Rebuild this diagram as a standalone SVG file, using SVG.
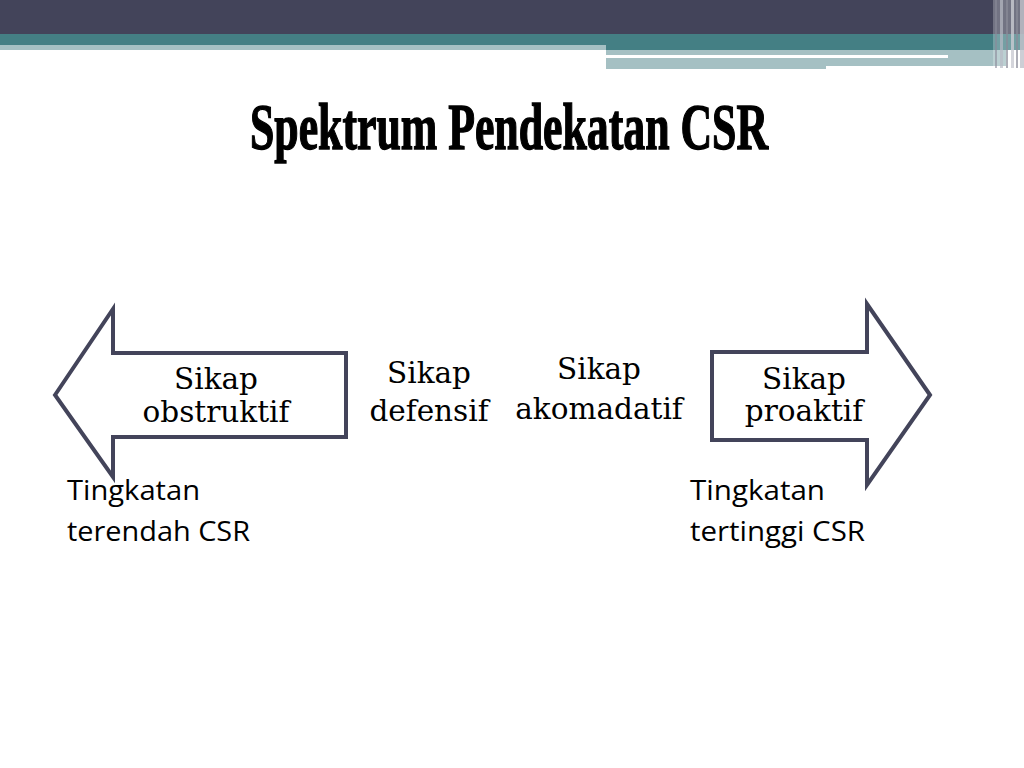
<svg xmlns="http://www.w3.org/2000/svg" width="1024" height="768" viewBox="0 0 1024 768">
<style>
.arrow{fill:#ffffff;stroke:#43445a;stroke-width:4;stroke-linejoin:miter}
.lbl{font-family:"DejaVu Serif","Liberation Serif",serif;font-size:29.5px;fill:#000;text-anchor:middle}
.note{font-family:"Open Sans","Noto Sans",sans-serif;font-size:27px;fill:#000}
.title{font-family:"Liberation Serif","DejaVu Serif",serif;font-weight:bold;font-size:65px;fill:#000;stroke:#000;stroke-width:1.4}
</style>
<rect width="1024" height="768" fill="#ffffff"/>
<g id="header">
<rect x="0" y="0" width="1024" height="34" fill="#43445a"/>
<rect x="0" y="34" width="1024" height="11" fill="#447f84"/>
<rect x="0" y="45" width="606" height="5" fill="#a5c0c3"/>
<rect x="606" y="45" width="418" height="5" fill="#447f84"/>
<rect x="606" y="50" width="400" height="16" fill="#a5c0c3"/>
<rect x="606" y="66" width="220" height="3" fill="#a5c0c3"/>
<rect x="606" y="55" width="342" height="3" fill="#ffffff"/>
<rect x="993" y="0" width="31" height="68" fill="#ffffff" opacity="0.25"/>
<rect x="995" y="0" width="2" height="68" fill="#8a8b99" opacity="0.6"/>
<rect x="1000" y="0" width="3" height="68" fill="#b8bac4" opacity="0.7"/>
<rect x="1006" y="0" width="2" height="68" fill="#8a8b99" opacity="0.7"/>
<rect x="1011" y="0" width="3" height="68" fill="#c9cbd2" opacity="0.8"/>
<rect x="1016" y="0" width="2" height="68" fill="#8a8b99" opacity="0.7"/>
<rect x="1020" y="0" width="4" height="68" fill="#c0c2ca" opacity="0.8"/>
</g>
<text class="title" x="250" y="149" textLength="518" lengthAdjust="spacingAndGlyphs">Spektrum Pendekatan CSR</text>
<g id="node-obstruktif">
<polygon class="arrow" points="55,395 113,309 113,353 346,353 346,437 113,437 113,477"/>
<text class="lbl" x="216" y="389">Sikap</text>
<text class="lbl" x="216" y="422">obstruktif</text>
</g>
<g id="node-defensif">
<text class="lbl" x="429" y="383">Sikap</text>
<text class="lbl" x="429" y="421">defensif</text>
</g>
<g id="node-akomadatif">
<text class="lbl" x="599" y="379">Sikap</text>
<text class="lbl" x="599" y="419">akomadatif</text>
</g>
<g id="node-proaktif">
<polygon class="arrow" points="930,395 867,304 867,352 712,352 712,440 867,440 867,485"/>
<text class="lbl" x="804" y="389">Sikap</text>
<text class="lbl" x="804" y="421">proaktif</text>
</g>
<g id="notes">
<text class="note" x="67" y="500" textLength="133" lengthAdjust="spacingAndGlyphs">Tingkatan</text>
<text class="note" x="67" y="541" textLength="183" lengthAdjust="spacingAndGlyphs">terendah CSR</text>
<text class="note" x="690" y="500" textLength="135" lengthAdjust="spacingAndGlyphs">Tingkatan</text>
<text class="note" x="690" y="541" textLength="175" lengthAdjust="spacingAndGlyphs">tertinggi CSR</text>
</g>
<g id="connectors"></g>
</svg>
